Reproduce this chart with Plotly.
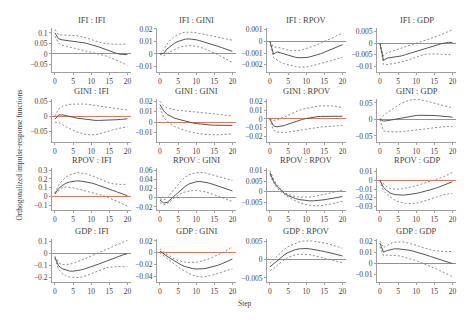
import plotly.graph_objects as go

steps = list(range(21))
x_ticks = [0, 5, 10, 15, 20]
x_ticktext = ["0", "5", "10", "15", "20"]

# ---- Row 1: impulse IFI ----
IFI_IFI_irf = [0.1, 0.072, 0.067, 0.065, 0.064, 0.062, 0.060, 0.057, 0.053, 0.049, 0.045, 0.040, 0.034, 0.028, 0.021, 0.014, 0.008, 0.003, -0.001, -0.003, -0.003]
IFI_IFI_hi = [0.115, 0.092, 0.09, 0.09, 0.09, 0.089, 0.087, 0.084, 0.080, 0.075, 0.069, 0.063, 0.057, 0.052, 0.049, 0.047, 0.046, 0.046, 0.046, 0.047, 0.047]
IFI_IFI_lo = [0.085, 0.052, 0.042, 0.037, 0.033, 0.029, 0.025, 0.021, 0.017, 0.013, 0.009, 0.005, 0.001, -0.004, -0.009, -0.015, -0.022, -0.029, -0.037, -0.045, -0.055]
IFI_IFI_ticks = [0.1, 0.05, 0, -0.05]
IFI_IFI_ticktext = ["0.1", "0.05", "0", "\u22120.05"]

IFI_GINI_irf = [0, 0.0005, 0.004, 0.0065, 0.0085, 0.010, 0.011, 0.0118, 0.012, 0.0118, 0.0113, 0.0106, 0.0098, 0.0089, 0.008, 0.0071, 0.0061, 0.0051, 0.0041, 0.0031, 0.0021]
IFI_GINI_hi = [0, 0.003, 0.008, 0.0115, 0.014, 0.0157, 0.0168, 0.0173, 0.0175, 0.0173, 0.0169, 0.0163, 0.0156, 0.0149, 0.0142, 0.0135, 0.0128, 0.0122, 0.0117, 0.0113, 0.011]
IFI_GINI_lo = [0, -0.0015, 0.0005, 0.002, 0.0035, 0.0048, 0.0058, 0.0064, 0.0066, 0.0065, 0.0061, 0.0054, 0.0045, 0.0034, 0.0022, 0.0008, -0.0006, -0.002, -0.0036, -0.0052, -0.0068]
IFI_GINI_ticks = [0.02, 0.01, 0, -0.01]
IFI_GINI_ticktext = ["0.02", "0.01", "0", "\u22120.01"]

IFI_RPOV_irf = [0, -0.0011, -0.0009, -0.001, -0.00112, -0.00122, -0.0013, -0.00136, -0.0014, -0.0014, -0.00138, -0.00133, -0.00126, -0.00117, -0.00106, -0.00094, -0.00081, -0.00068, -0.00055, -0.00042, -0.0003]
IFI_RPOV_hi = [0, -0.0005, -0.0005, -0.0006, -0.0007, -0.00075, -0.0008, -0.0008, -0.00078, -0.00072, -0.00064, -0.00054, -0.00042, -0.0003, -0.00017, -0.00004, 0.0001, 0.00025, 0.0004, 0.00055, 0.0007]
IFI_RPOV_lo = [0, -0.0014, -0.0016, -0.0018, -0.0019, -0.002, -0.0021, -0.00215, -0.0022, -0.0022, -0.00218, -0.00213, -0.00206, -0.00198, -0.0019, -0.00181, -0.00172, -0.00163, -0.00154, -0.00145, -0.00136]
IFI_RPOV_ticks = [0.001, 0, -0.001, -0.002]
IFI_RPOV_ticktext = ["0.001", "0", "\u22120.001", "\u22120.002"]

IFI_GDP_irf = [0, -0.0075, -0.0065, -0.0063, -0.0061, -0.0058, -0.0055, -0.005, -0.0045, -0.004, -0.0035, -0.003, -0.0025, -0.002, -0.0015, -0.001, -0.0006, -0.0002, 0.0001, 0.0004, 0.0003]
IFI_GDP_hi = [0, -0.0055, -0.0042, -0.0037, -0.0032, -0.0027, -0.0022, -0.0017, -0.0012, -0.0007, -0.0002, 0.0003, 0.0008, 0.0014, 0.002, 0.0026, 0.0032, 0.0038, 0.0044, 0.005, 0.0058]
IFI_GDP_lo = [0, -0.0092, -0.0093, -0.0091, -0.0089, -0.0086, -0.0082, -0.0077, -0.0071, -0.0065, -0.0059, -0.0054, -0.005, -0.0047, -0.0046, -0.0046, -0.0047, -0.0048, -0.0049, -0.005, -0.005]
IFI_GDP_ticks = [0.005, 0, -0.005, -0.01]
IFI_GDP_ticktext = ["0.005", "0", "\u22120.005", "\u22120.01"]

# ---- Row 2: impulse GINI ----
GINI_IFI_irf = [-0.01, 0.004, 0.005, 0.003, 0.0, -0.003, -0.006, -0.008, -0.010, -0.012, -0.013, -0.0135, -0.0138, -0.0138, -0.0135, -0.013, -0.0123, -0.0115, -0.0105, -0.0095, -0.0085]
GINI_IFI_hi = [0.0, 0.025, 0.034, 0.038, 0.04, 0.041, 0.042, 0.042, 0.0415, 0.0405, 0.039, 0.0375, 0.036, 0.034, 0.032, 0.030, 0.028, 0.026, 0.024, 0.0225, 0.021]
GINI_IFI_lo = [-0.02, -0.02, -0.028, -0.035, -0.041, -0.047, -0.052, -0.057, -0.060, -0.062, -0.063, -0.062, -0.060, -0.057, -0.053, -0.049, -0.045, -0.042, -0.039, -0.037, -0.035]
GINI_IFI_ticks = [0.05, 0, -0.05]
GINI_IFI_ticktext = ["0.05", "0", "\u22120.05"]

GINI_GINI_irf = [0.017, 0.011, 0.0075, 0.0055, 0.004, 0.003, 0.002, 0.001, 0.0, -0.0006, -0.0012, -0.0017, -0.0021, -0.0024, -0.0026, -0.0028, -0.0029, -0.003, -0.003, -0.003, -0.003]
GINI_GINI_hi = [0.02, 0.016, 0.0135, 0.0125, 0.012, 0.0115, 0.0112, 0.011, 0.0107, 0.0104, 0.01, 0.0096, 0.0092, 0.0088, 0.0084, 0.008, 0.0076, 0.0072, 0.0068, 0.0064, 0.006]
GINI_GINI_lo = [0.014, 0.005, 0.001, -0.002, -0.004, -0.0055, -0.007, -0.008, -0.009, -0.0098, -0.0105, -0.011, -0.0115, -0.0118, -0.012, -0.012, -0.012, -0.0118, -0.0115, -0.0112, -0.011]
GINI_GINI_ticks = [0.02, 0.01, 0, -0.01]
GINI_GINI_ticktext = ["0.02", "0.01", "0", "\u22120.01"]

GINI_RPOV_irf = [0, -0.008, -0.009, -0.0085, -0.0075, -0.006, -0.0045, -0.003, -0.0015, -0.0005, 0.0005, 0.0013, 0.002, 0.0025, 0.0028, 0.003, 0.0031, 0.0031, 0.0031, 0.003, 0.003]
GINI_RPOV_hi = [0, -0.002, -0.001, 0.0005, 0.002, 0.004, 0.006, 0.008, 0.0095, 0.011, 0.012, 0.013, 0.0138, 0.0144, 0.0148, 0.015, 0.015, 0.0148, 0.0144, 0.0138, 0.013]
GINI_RPOV_lo = [0, -0.013, -0.015, -0.0155, -0.0155, -0.015, -0.0143, -0.0135, -0.0127, -0.012, -0.0113, -0.0107, -0.0102, -0.0097, -0.0093, -0.009, -0.0087, -0.0084, -0.0081, -0.0078, -0.0075]
GINI_RPOV_ticks = [0.02, 0.01, 0, -0.01, -0.02]
GINI_RPOV_ticktext = ["0.02", "0.01", "0", "\u22120.01", "\u22120.02"]

GINI_GDP_irf = [0, -0.005, -0.004, -0.002, 0.0, 0.003, 0.0055, 0.0078, 0.0095, 0.011, 0.012, 0.0125, 0.0127, 0.0126, 0.0123, 0.0118, 0.0111, 0.0102, 0.0092, 0.008, 0.0068]
GINI_GDP_hi = [0, 0.012, 0.02, 0.028, 0.036, 0.043, 0.049, 0.054, 0.058, 0.06, 0.061, 0.06, 0.058, 0.055, 0.052, 0.049, 0.046, 0.043, 0.04, 0.037, 0.035]
GINI_GDP_lo = [0, -0.035, -0.037, -0.038, -0.038, -0.038, -0.037, -0.036, -0.035, -0.034, -0.033, -0.032, -0.031, -0.029, -0.027, -0.025, -0.024, -0.022, -0.021, -0.021, -0.022]
GINI_GDP_ticks = [0.05, 0, -0.05]
GINI_GDP_ticktext = ["0.05", "0", "\u22120.05"]

# ---- Row 3: impulse RPOV ----
RPOV_IFI_irf = [0.03, 0.09, 0.125, 0.15, 0.165, 0.175, 0.178, 0.177, 0.172, 0.165, 0.155, 0.143, 0.13, 0.116, 0.101, 0.086, 0.07, 0.055, 0.04, 0.025, 0.01]
RPOV_IFI_hi = [0.04, 0.13, 0.18, 0.22, 0.245, 0.26, 0.27, 0.27, 0.265, 0.255, 0.24, 0.223, 0.205, 0.187, 0.17, 0.156, 0.146, 0.14, 0.138, 0.138, 0.14]
RPOV_IFI_lo = [0.03, 0.07, 0.1, 0.11, 0.108, 0.1, 0.09, 0.08, 0.07, 0.06, 0.05, 0.04, 0.028, 0.015, 0.0, -0.015, -0.032, -0.05, -0.07, -0.09, -0.11]
RPOV_IFI_ticks = [0.3, 0.2, 0.1, 0, -0.1]
RPOV_IFI_ticktext = ["0.3", "0.2", "0.1", "0", "\u22120.1"]

RPOV_GINI_irf = [-0.005, -0.011, -0.01, -0.003, 0.005, 0.012, 0.019, 0.025, 0.03, 0.033, 0.035, 0.0355, 0.035, 0.033, 0.031, 0.0285, 0.026, 0.023, 0.0205, 0.018, 0.015]
RPOV_GINI_hi = [-0.002, -0.005, 0.0, 0.01, 0.02, 0.03, 0.038, 0.045, 0.05, 0.053, 0.055, 0.0555, 0.055, 0.0535, 0.0515, 0.049, 0.0465, 0.044, 0.042, 0.04, 0.038]
RPOV_GINI_lo = [-0.01, -0.015, -0.013, -0.006, 0.0, 0.005, 0.01, 0.013, 0.015, 0.016, 0.016, 0.0155, 0.014, 0.012, 0.0095, 0.007, 0.004, 0.001, -0.002, -0.005, -0.008]
RPOV_GINI_ticks = [0.06, 0.04, 0.02, 0, -0.02]
RPOV_GINI_ticktext = ["0.06", "0.04", "0.02", "0", "\u22120.02"]

RPOV_RPOV_irf = [0.009, 0.005, 0.0025, 0.0007, -0.0007, -0.0017, -0.0025, -0.0031, -0.0036, -0.0039, -0.0041, -0.0042, -0.0042, -0.0041, -0.0039, -0.0037, -0.0034, -0.0031, -0.0028, -0.0025, -0.0022]
RPOV_RPOV_hi = [0.01, 0.006, 0.0033, 0.0013, -0.0002, -0.0012, -0.0018, -0.0022, -0.0024, -0.0025, -0.0025, -0.0024, -0.0022, -0.0019, -0.0016, -0.0012, -0.0008, -0.0004, 0.0, 0.0004, 0.0008]
RPOV_RPOV_lo = [0.008, 0.0043, 0.0017, 0.0, -0.0013, -0.0024, -0.0034, -0.0042, -0.0049, -0.0055, -0.006, -0.0063, -0.0065, -0.0066, -0.0065, -0.0063, -0.006, -0.0056, -0.0052, -0.0048, -0.0044]
RPOV_RPOV_ticks = [0.01, 0.005, 0, -0.005]
RPOV_RPOV_ticktext = ["0.01", "0.005", "0", "\u22120.005"]

RPOV_GDP_irf = [0, -0.008, -0.012, -0.0148, -0.0163, -0.0169, -0.017, -0.0168, -0.0164, -0.0158, -0.015, -0.0141, -0.0131, -0.012, -0.0108, -0.0095, -0.0081, -0.0066, -0.005, -0.0033, -0.0015]
RPOV_GDP_hi = [0, -0.004, -0.0075, -0.0095, -0.0102, -0.0102, -0.0098, -0.0091, -0.0082, -0.0072, -0.0061, -0.0049, -0.0036, -0.0022, -0.0008, 0.0006, 0.002, 0.0035, 0.0052, 0.0072, 0.0095]
RPOV_GDP_lo = [0, -0.012, -0.0165, -0.02, -0.0225, -0.0245, -0.0258, -0.0265, -0.0268, -0.0267, -0.0263, -0.0255, -0.0244, -0.0231, -0.0216, -0.02, -0.0185, -0.0172, -0.0162, -0.0155, -0.0152]
RPOV_GDP_ticks = [0.01, 0, -0.01, -0.02, -0.03]
RPOV_GDP_ticktext = ["0.01", "0", "\u22120.01", "\u22120.02", "\u22120.03"]

# ---- Row 4: impulse GDP ----
GDP_IFI_irf = [-0.03, -0.1, -0.125, -0.138, -0.145, -0.146, -0.143, -0.137, -0.129, -0.12, -0.11, -0.099, -0.088, -0.076, -0.064, -0.052, -0.04, -0.028, -0.017, -0.007, 0.0]
GDP_IFI_hi = [-0.02, -0.075, -0.09, -0.092, -0.088, -0.08, -0.07, -0.058, -0.045, -0.032, -0.019, -0.006, 0.007, 0.019, 0.031, 0.043, 0.056, 0.069, 0.083, 0.098, 0.113]
GDP_IFI_lo = [-0.04, -0.13, -0.165, -0.185, -0.195, -0.2, -0.2, -0.197, -0.19, -0.18, -0.168, -0.155, -0.142, -0.13, -0.12, -0.113, -0.109, -0.107, -0.107, -0.108, -0.11]
GDP_IFI_ticks = [0.1, 0, -0.1, -0.2]
GDP_IFI_ticktext = ["0.1", "0", "\u22120.1", "\u22120.2"]

GDP_GINI_irf = [0.003, -0.002, -0.006, -0.01, -0.014, -0.018, -0.021, -0.0235, -0.0255, -0.0268, -0.0275, -0.0276, -0.0271, -0.0262, -0.0249, -0.0232, -0.0212, -0.0189, -0.0164, -0.0137, -0.0108]
GDP_GINI_hi = [0.007, 0.001, -0.003, -0.007, -0.01, -0.013, -0.015, -0.016, -0.0165, -0.0165, -0.016, -0.015, -0.0135, -0.0115, -0.009, -0.0065, -0.004, -0.001, 0.002, 0.006, 0.011]
GDP_GINI_lo = [0.0, -0.005, -0.009, -0.014, -0.019, -0.024, -0.028, -0.032, -0.035, -0.038, -0.04, -0.041, -0.041, -0.04, -0.039, -0.037, -0.035, -0.033, -0.031, -0.029, -0.027]
GDP_GINI_ticks = [0.02, 0, -0.02, -0.04]
GDP_GINI_ticktext = ["0.02", "0", "\u22120.02", "\u22120.04"]

GDP_RPOV_irf = [-0.002, -0.0012, -0.0003, 0.0006, 0.0013, 0.0019, 0.0024, 0.0027, 0.0029, 0.003, 0.003, 0.0029, 0.0028, 0.0026, 0.0024, 0.0022, 0.002, 0.0017, 0.0015, 0.0012, 0.001]
GDP_RPOV_hi = [-0.001, 0.0, 0.001, 0.002, 0.0028, 0.0035, 0.004, 0.0045, 0.0048, 0.005, 0.0051, 0.0051, 0.005, 0.0049, 0.0047, 0.0045, 0.0043, 0.004, 0.0037, 0.0034, 0.0031]
GDP_RPOV_lo = [-0.003, -0.0025, -0.0016, -0.0007, 0.0, 0.0006, 0.001, 0.0013, 0.0015, 0.0015, 0.0014, 0.0013, 0.0011, 0.0009, 0.0007, 0.0005, 0.0002, 0.0, -0.0003, -0.0006, -0.0009]
GDP_RPOV_ticks = [0.005, 0, -0.005]
GDP_RPOV_ticktext = ["0.005", "0", "\u22120.005"]

GDP_GDP_irf = [0.018, 0.01, 0.0115, 0.0125, 0.013, 0.013, 0.0128, 0.0124, 0.0118, 0.0111, 0.0103, 0.0094, 0.0084, 0.0073, 0.0062, 0.0051, 0.004, 0.0029, 0.0018, 0.0008, 0.0]
GDP_GDP_hi = [0.02, 0.014, 0.016, 0.0178, 0.0188, 0.0192, 0.0192, 0.0188, 0.0181, 0.0172, 0.0162, 0.0151, 0.014, 0.013, 0.0121, 0.0114, 0.0109, 0.0106, 0.0105, 0.0106, 0.0108]
GDP_GDP_lo = [0.015, 0.007, 0.0075, 0.0075, 0.0073, 0.0069, 0.0063, 0.0055, 0.0046, 0.0036, 0.0025, 0.0013, 0.0001, -0.0012, -0.0025, -0.0039, -0.0053, -0.0068, -0.0084, -0.01, -0.0117]
GDP_GDP_ticks = [0.02, 0.01, 0, -0.01]
GDP_GDP_ticktext = ["0.02", "0.01", "0", "\u22120.01"]

panels = [
    ("IFI : IFI", IFI_IFI_irf, IFI_IFI_lo, IFI_IFI_hi, IFI_IFI_ticks, IFI_IFI_ticktext, [-0.085, 0.125]),
    ("IFI : GINI", IFI_GINI_irf, IFI_GINI_lo, IFI_GINI_hi, IFI_GINI_ticks, IFI_GINI_ticktext, [-0.0143, 0.021]),
    ("IFI : RPOV", IFI_RPOV_irf, IFI_RPOV_lo, IFI_RPOV_hi, IFI_RPOV_ticks, IFI_RPOV_ticktext, [-0.0026, 0.00115]),
    ("IFI : GDP", IFI_GDP_irf, IFI_GDP_lo, IFI_GDP_hi, IFI_GDP_ticks, IFI_GDP_ticktext, [-0.0125, 0.0068]),
    ("GINI : IFI", GINI_IFI_irf, GINI_IFI_lo, GINI_IFI_hi, GINI_IFI_ticks, GINI_IFI_ticktext, [-0.086, 0.06]),
    ("GINI : GINI", GINI_GINI_irf, GINI_GINI_lo, GINI_GINI_hi, GINI_GINI_ticks, GINI_GINI_ticktext, [-0.0187, 0.0227]),
    ("GINI : RPOV", GINI_RPOV_irf, GINI_RPOV_lo, GINI_RPOV_hi, GINI_RPOV_ticks, GINI_RPOV_ticktext, [-0.0261, 0.0232]),
    ("GINI : GDP", GINI_GDP_irf, GINI_GDP_lo, GINI_GDP_hi, GINI_GDP_ticks, GINI_GDP_ticktext, [-0.068, 0.0634]),
    ("RPOV : IFI", RPOV_IFI_irf, RPOV_IFI_lo, RPOV_IFI_hi, RPOV_IFI_ticks, RPOV_IFI_ticktext, [-0.15, 0.32]),
    ("RPOV : GINI", RPOV_GINI_irf, RPOV_GINI_lo, RPOV_GINI_hi, RPOV_GINI_ticks, RPOV_GINI_ticktext, [-0.0261, 0.064]),
    ("RPOV : RPOV", RPOV_RPOV_irf, RPOV_RPOV_lo, RPOV_RPOV_hi, RPOV_RPOV_ticks, RPOV_RPOV_ticktext, [-0.0084, 0.011]),
    ("RPOV : GDP", RPOV_GDP_irf, RPOV_GDP_lo, RPOV_GDP_hi, RPOV_GDP_ticks, RPOV_GDP_ticktext, [-0.034, 0.014]),
    ("GDP : IFI", GDP_IFI_irf, GDP_IFI_lo, GDP_IFI_hi, GDP_IFI_ticks, GDP_IFI_ticktext, [-0.234, 0.121]),
    ("GDP : GINI", GDP_GINI_irf, GDP_GINI_lo, GDP_GINI_hi, GDP_GINI_ticks, GDP_GINI_ticktext, [-0.049, 0.0227]),
    ("GDP : RPOV", GDP_RPOV_irf, GDP_RPOV_lo, GDP_RPOV_hi, GDP_RPOV_ticks, GDP_RPOV_ticktext, [-0.006, 0.0055]),
    ("GDP : GDP", GDP_GDP_irf, GDP_GDP_lo, GDP_GDP_hi, GDP_GDP_ticks, GDP_GDP_ticktext, [-0.016, 0.0214]),
]

W, H = 474, 326
col_px = [(52, 131), (157, 236), (267, 346), (377, 456)]
row_px = [(25, 70), (97, 141), (168, 210), (240, 283)]

FONT = "Liberation Serif"
LINE_GRAY = "#555555"
DASH_GRAY = "#8c8c8c"
AXIS_GRAY = "#a0a0a0"
ZERO_RED = "#e5745e"
TXT = "#444444"

fig = go.Figure()
layout = {}
annotations = []

for i, (title, irf, lo, hi, yt, ytt, yr) in enumerate(panels):
    r, c = divmod(i, 4)
    n = i + 1
    xa = "x" if n == 1 else f"x{n}"
    ya = "y" if n == 1 else f"y{n}"
    xkey = "xaxis" if n == 1 else f"xaxis{n}"
    ykey = "yaxis" if n == 1 else f"yaxis{n}"
    x0, x1 = col_px[c]
    t0, t1 = row_px[r]
    xd = [x0 / W, x1 / W]
    yd = [1 - t1 / H, 1 - t0 / H]

    for series in (lo, hi):
        fig.add_trace(go.Scatter(x=steps, y=series, mode="lines", xaxis=xa, yaxis=ya,
                                 line=dict(color=DASH_GRAY, width=1, dash="2px,2px"),
                                 showlegend=False, hoverinfo="skip"))
    fig.add_trace(go.Scatter(x=steps, y=irf, mode="lines", xaxis=xa, yaxis=ya,
                             line=dict(color=LINE_GRAY, width=1),
                             showlegend=False))

    layout[xkey] = dict(domain=xd, anchor=ya, range=[-0.8, 21], tickvals=x_ticks, ticktext=x_ticktext,
                        showgrid=False, zeroline=False, showline=True, linecolor=AXIS_GRAY, linewidth=1,
                        ticks="outside", ticklen=2, tickcolor=AXIS_GRAY, tickwidth=1,
                        tickfont=dict(family=FONT, size=7.5, color=TXT))
    # zero reference line drawn by the y axis at y = 0
    layout[ykey] = dict(domain=yd, anchor=xa, range=yr, tickvals=yt, ticktext=ytt,
                        showgrid=False, zeroline=True, zerolinecolor=ZERO_RED, zerolinewidth=1,
                        showline=True, linecolor=AXIS_GRAY, linewidth=1,
                        ticks="outside", ticklen=2, tickcolor=AXIS_GRAY, tickwidth=1,
                        tickfont=dict(family=FONT, size=7.5, color=TXT))
    annotations.append(dict(text=title, x=(xd[0] + xd[1]) / 2, y=yd[1] + 1 / H, xref="paper", yref="paper",
                            xanchor="center", yanchor="bottom", showarrow=False,
                            font=dict(family=FONT, size=8.5, color=TXT)))

annotations.append(dict(text="Step", x=245 / W, y=1 - 305 / H, xref="paper", yref="paper",
                        xanchor="center", yanchor="middle", showarrow=False,
                        font=dict(family=FONT, size=7.5, color=TXT)))
annotations.append(dict(text="Orthogonalized impulse-response functions", x=20 / W, y=1 - 155 / H,
                        xref="paper", yref="paper", xanchor="center", yanchor="middle", textangle=-90,
                        showarrow=False, font=dict(family=FONT, size=7.5, color=TXT)))

fig.update_layout(width=W, height=H, margin=dict(l=0, r=0, t=0, b=0),
                  paper_bgcolor="white", plot_bgcolor="white",
                  annotations=annotations, showlegend=False, **layout)

fig.write_html("out.html")
